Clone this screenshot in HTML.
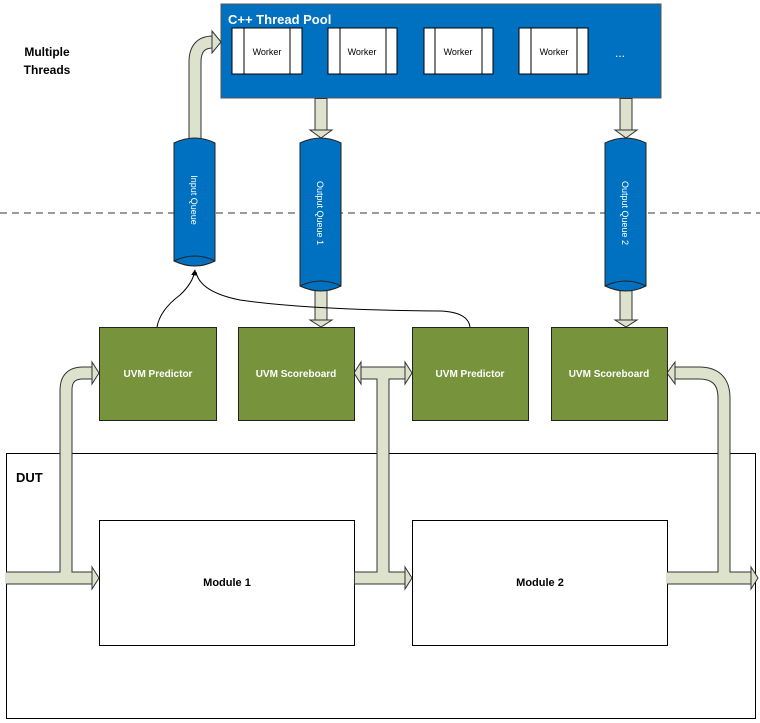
<!DOCTYPE html>
<html><head><meta charset="utf-8"><style>
html,body{margin:0;padding:0;background:#fff}
svg{display:block}
text{font-family:"Liberation Sans",sans-serif}
</style></head><body>
<svg width="760" height="723" viewBox="0 0 760 723" xmlns="http://www.w3.org/2000/svg">
<defs>
<marker id="ah" viewBox="0 0 10 10" refX="9" refY="5" markerWidth="6" markerHeight="6" orient="auto"><path d="M0,0 L10,5 L0,10 z" fill="#000"/></marker>
</defs>
<!-- DUT -->
<rect x="6.5" y="453.5" width="749" height="265" fill="#fff" stroke="#000" stroke-width="1"/>
<text x="16" y="482" font-size="13" font-weight="bold">DUT</text>
<rect x="99.5" y="520.5" width="255" height="125" fill="#fff" stroke="#000"/>
<rect x="412.5" y="520.5" width="255" height="125" fill="#fff" stroke="#000"/>
<text x="227" y="586" font-size="11" font-weight="bold" text-anchor="middle">Module 1</text>
<text x="540" y="586" font-size="11" font-weight="bold" text-anchor="middle">Module 2</text>

<text x="47" y="56" font-size="12" font-weight="bold" text-anchor="middle">Multiple</text>
<text x="47" y="74" font-size="12" font-weight="bold" text-anchor="middle">Threads</text>

<line x1="0" y1="213" x2="760" y2="213" stroke="#333" stroke-dasharray="7,5"/>

<!-- thread pool -->
<rect x="221" y="4" width="440" height="94" fill="#0070c0" stroke="#555"/>
<text x="228" y="24" font-size="13" font-weight="bold" fill="#fff">C++ Thread Pool</text>
<g stroke="#000" fill="#fff">
<rect x="232" y="28" width="70" height="46"/><line x1="244" y1="28" x2="244" y2="74"/><line x1="290" y1="28" x2="290" y2="74"/>
<rect x="328" y="28" width="69" height="46"/><line x1="340" y1="28" x2="340" y2="74"/><line x1="386" y1="28" x2="386" y2="74"/>
<rect x="424" y="28" width="69" height="46"/><line x1="435" y1="28" x2="435" y2="74"/><line x1="482" y1="28" x2="482" y2="74"/>
<rect x="519" y="28" width="69" height="46"/><line x1="531" y1="28" x2="531" y2="74"/><line x1="577" y1="28" x2="577" y2="74"/>
</g>
<g font-size="9" text-anchor="middle"><text x="267" y="55">Worker</text><text x="362" y="55">Worker</text><text x="458" y="55">Worker</text><text x="554" y="55">Worker</text></g>
<text x="620" y="57" font-size="12" fill="#fff" text-anchor="middle">...</text>

<!-- arrows: outline + fill -->
<g fill="none" stroke-linejoin="round">
<g stroke="#333" stroke-width="13">
<path d="M195,140 L195,62 Q195,42 213,42"/>
<path d="M321,98 L321,130"/><path d="M626,98 L626,130"/>
<path d="M321,290 L321,320"/><path d="M626,290 L626,320"/>
<path d="M6,578 L92,578"/><path d="M66,578 L66,390 Q66,373 83,373 L92,373"/>
<path d="M354,578 L405,578"/><path d="M383,578 L383,373"/><path d="M361,373 L405,373"/>
<path d="M667,578 L751,578"/><path d="M724,578 L724,398 Q724,373 699,373 L675,373"/>
</g>
<g stroke="#dde2cc" stroke-width="11">
<path d="M195,141 L195,62 Q195,42 213,42"/>
<path d="M321,99 L321,131"/><path d="M626,99 L626,131"/>
<path d="M321,289 L321,321"/><path d="M626,289 L626,321"/>
<path d="M5,578 L93,578"/><path d="M66,577 L66,390 Q66,373 83,373 L93,373"/>
<path d="M355,578 L406,578"/><path d="M383,577 L383,374"/><path d="M360,373 L406,373"/>
<path d="M666,578 L752,578"/><path d="M724,577 L724,398 Q724,373 699,373 L674,373"/>
</g>
</g>
<g fill="#dde2cc" stroke="#333" stroke-width="1">
<polygon points="212,31 221,42 212,53"/>
<polygon points="310,130 332,130 321,138"/><polygon points="615,130 637,130 626,138"/>
<polygon points="310,320 332,320 321,327"/><polygon points="615,320 637,320 626,327"/>
<polygon points="92,567 99,578 92,589"/><polygon points="92,362 99,373 92,384"/>
<polygon points="405,567 412,578 405,589"/><polygon points="405,362 412,373 405,384"/><polygon points="361,362 354,373 361,384"/>
<polygon points="751,567 758,578 751,589"/><polygon points="675,362 667,373 675,384"/>
</g>

<!-- cylinders -->
<g fill="#0070c0" stroke="#222" stroke-width="1">
<path d="M174,143 Q195,133 215,143 L215,261 Q195,271 174,261 Z"/>
<path d="M174,261 Q195,251 215,261"/>
<path d="M300,143 Q321,133 341,143 L341,286 Q321,296 300,286 Z"/>
<path d="M300,286 Q321,276 341,286"/>
<path d="M605,143 Q626,133 646,143 L646,286 Q626,296 605,286 Z"/>
<path d="M605,286 Q626,276 646,286"/>
</g>
<g fill="#fff" font-size="9" text-anchor="middle">
<text transform="translate(191,200) rotate(90)">Input Queue</text>
<text transform="translate(317,213) rotate(90)">Output Queue 1</text>
<text transform="translate(622,213) rotate(90)">Output Queue 2</text>
</g>

<!-- thin curves -->
<g fill="none" stroke="#000" stroke-width="1">
<path d="M157,327 Q160,310 180,295 Q193,283 195,270" marker-end="url(#ah)"/>
<path d="M470,327 Q468,312 440,311 Q310,310 240,300 Q200,292 196,272"/>
</g>

<!-- green boxes -->
<g fill="#77933c" stroke="#222">
<rect x="99.5" y="327.5" width="117" height="93"/>
<rect x="238.5" y="327.5" width="116" height="93"/>
<rect x="412.5" y="327.5" width="116" height="93"/>
<rect x="551.5" y="327.5" width="116" height="93"/>
</g>
<g fill="#fff" font-size="10" font-weight="bold" text-anchor="middle">
<text x="158" y="377">UVM Predictor</text>
<text x="296" y="377">UVM Scoreboard</text>
<text x="470" y="377">UVM Predictor</text>
<text x="609" y="377">UVM Scoreboard</text>
</g>
</svg>
</body></html>
